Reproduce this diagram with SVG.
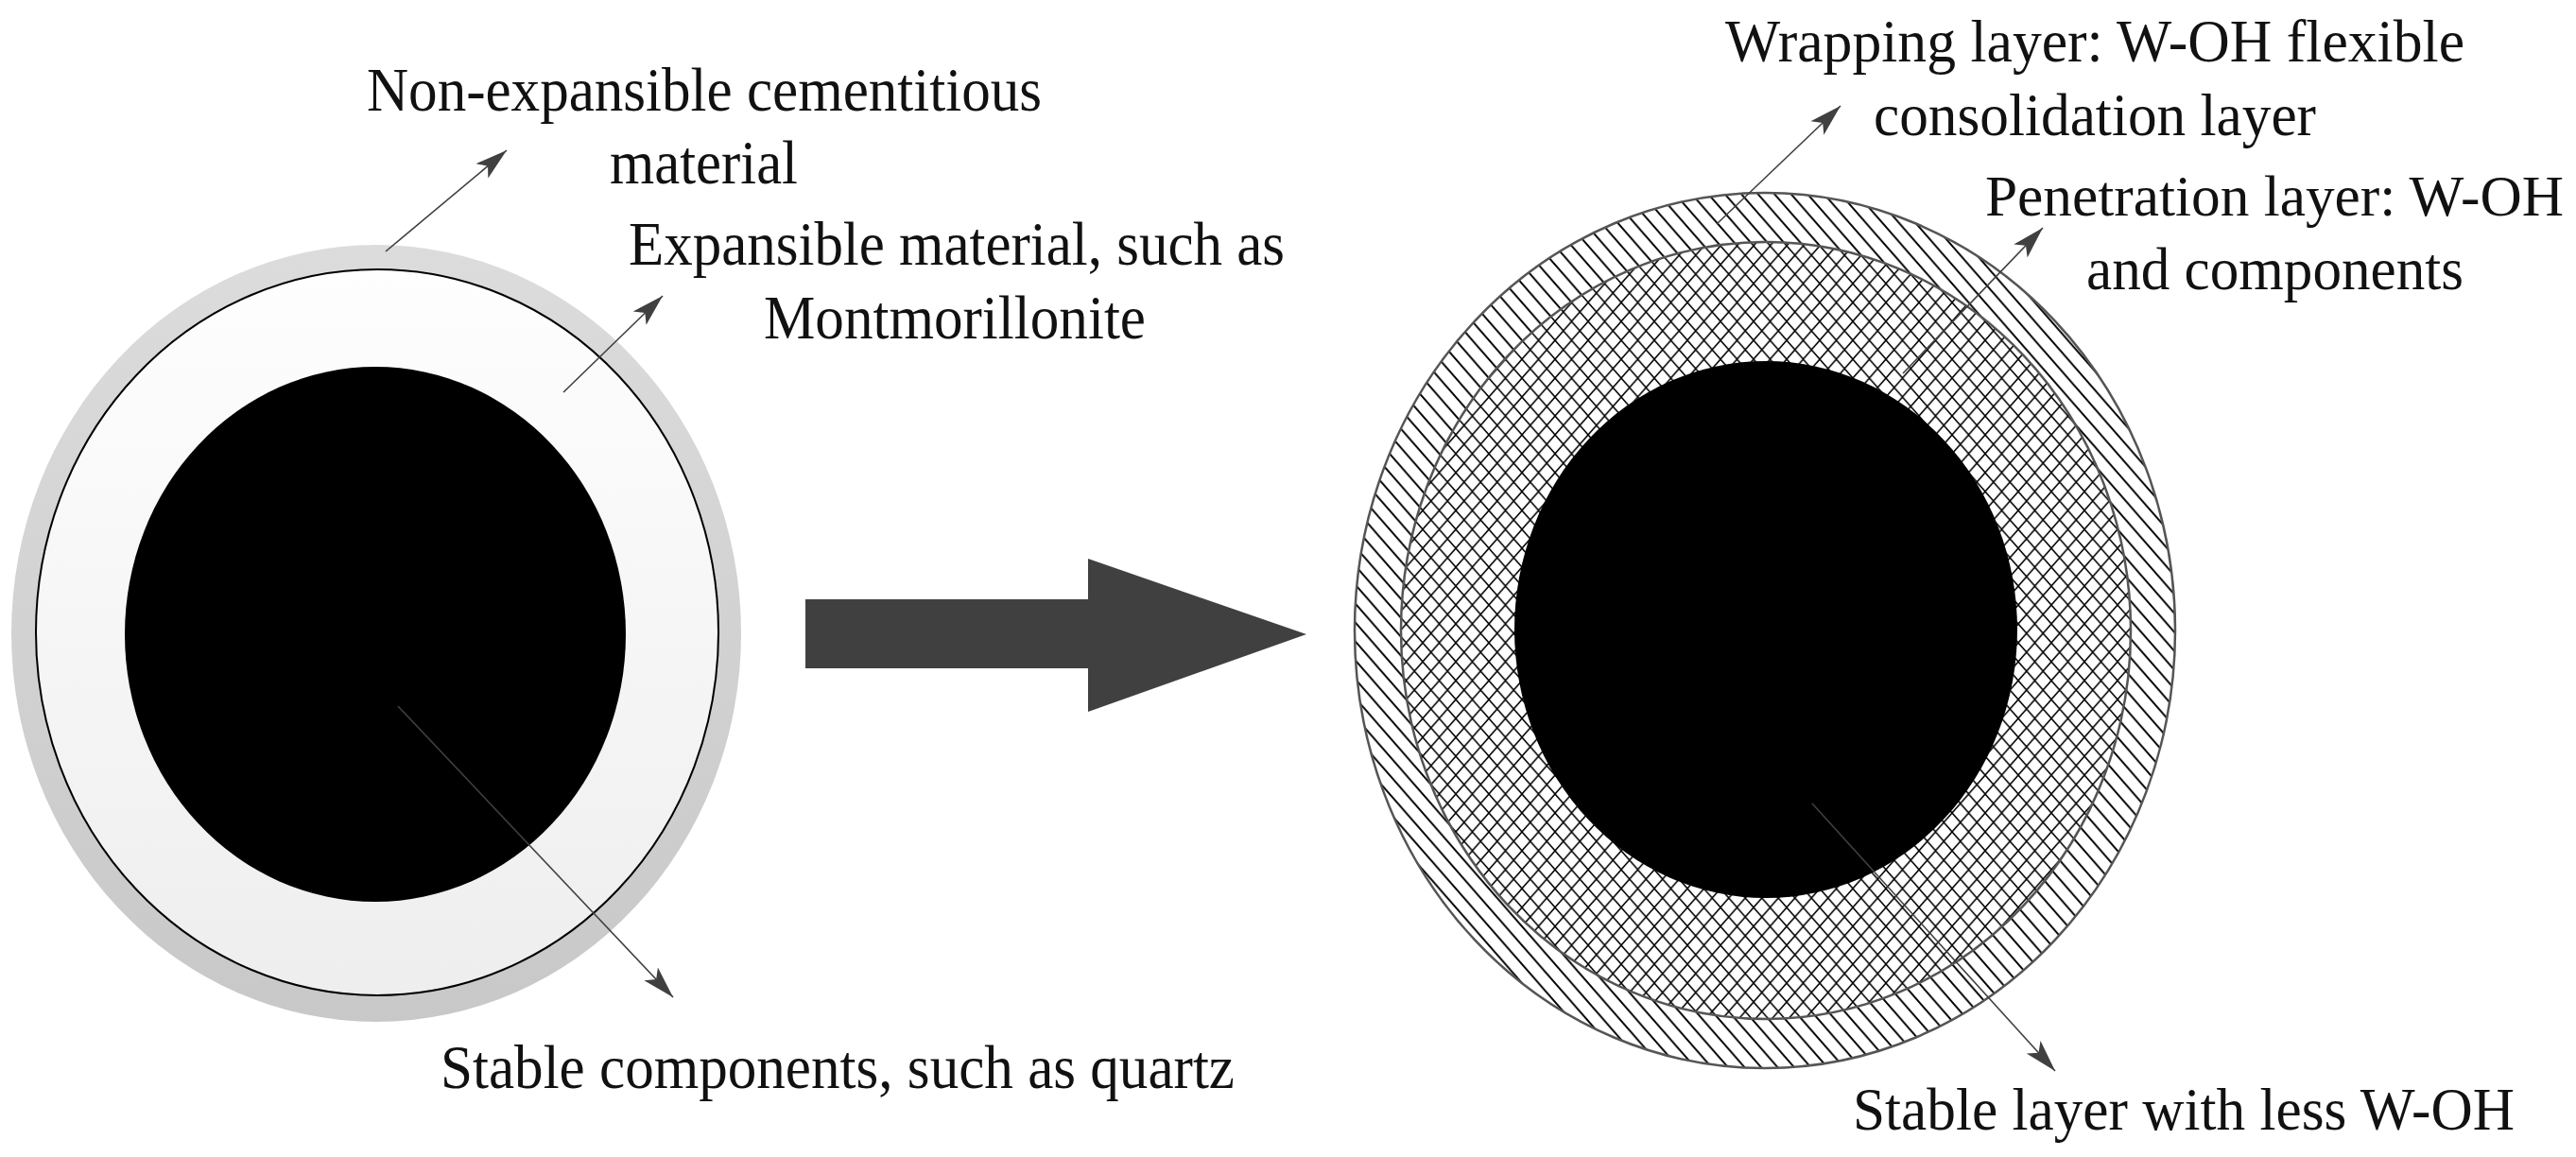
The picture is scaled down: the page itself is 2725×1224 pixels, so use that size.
<svg xmlns="http://www.w3.org/2000/svg" width="2725" height="1224" viewBox="0 0 2725 1224">
<style>
.t{font-family:"Liberation Serif","Times New Roman",serif;font-size:66px;fill:#111}
.r{font-size:63px}
.p{font-size:62px}
.c{fill:none;stroke:#404040;stroke-width:1.6;marker-end:url(#ah)}
.rim{stroke:#555;stroke-width:2.5}
</style>
<defs>
<linearGradient id="go" x1="0" y1="0" x2="0" y2="1"><stop offset="0" stop-color="#dcdcdc"/><stop offset="1" stop-color="#c8c8c8"/></linearGradient>
<linearGradient id="gi" x1="0" y1="0" x2="0" y2="1"><stop offset="0" stop-color="#fefefe"/><stop offset="1" stop-color="#eeeeee"/></linearGradient>
<pattern id="hatch" width="17.5" height="20" patternUnits="userSpaceOnUse"><rect width="17.5" height="20" fill="#fff"/><path d="M-3.5,-4L21,24M-3.5,16L3.5,24M14,-4L21,4" stroke="#000" stroke-width="1.9"/></pattern>
<pattern id="cross" width="17.5" height="20" patternUnits="userSpaceOnUse"><rect width="17.5" height="20" fill="#fff"/><path d="M-1.75,-2L19.25,22M-1.75,22L19.25,-2" stroke="#000" stroke-width="1.5"/></pattern>
<marker id="ah" markerUnits="userSpaceOnUse" markerWidth="36" markerHeight="24" viewBox="-34 -12 36 24" refX="0" refY="0" orient="auto"><path d="M0,0L-34,-10L-26,0L-34,10Z" fill="#404040"/></marker>
</defs>
<rect width="2725" height="1224" fill="#fff"/>
<g id="left-particle">
<ellipse cx="398" cy="670" rx="386" ry="411" fill="url(#go)"/>
<ellipse cx="399" cy="669" rx="361" ry="384" fill="url(#gi)" stroke="#000" stroke-width="2"/>
<ellipse cx="397" cy="671" rx="265" ry="283" fill="#000"/>
</g>
<g id="big-arrow"><path d="M852,634H1151V591L1382,671L1151,753V707H852Z" fill="#404040"/></g>
<g id="right-particle">
<ellipse cx="1867" cy="667" rx="434" ry="463" fill="url(#hatch)" class="rim"/>
<ellipse cx="1868" cy="667" rx="386" ry="411" fill="url(#cross)" class="rim"/>
<ellipse cx="1868" cy="666" rx="266" ry="284" fill="#000"/>
</g>
<g id="connectors">
<line class="c" x1="408" y1="266" x2="536" y2="159"/>
<line class="c" x1="596" y1="415" x2="701" y2="313"/>
<line class="c" x1="421" y1="747" x2="712" y2="1055"/>
<line class="c" x1="1816" y1="237" x2="1947" y2="112"/>
<line class="c" x1="2013" y1="395" x2="2161" y2="241"/>
<line class="c" x1="1917" y1="850" x2="2174" y2="1133"/>
</g>
<g id="labels">
<text class="t" x="388" y="117" textLength="714" lengthAdjust="spacingAndGlyphs">Non-expansible cementitious</text>
<text class="t" x="645" y="194" textLength="199" lengthAdjust="spacingAndGlyphs">material</text>
<text class="t" x="665" y="280" textLength="694" lengthAdjust="spacingAndGlyphs">Expansible material, such as</text>
<text class="t" x="808" y="358" textLength="404" lengthAdjust="spacingAndGlyphs">Montmorillonite</text>
<text class="t" x="466" y="1151" textLength="840" lengthAdjust="spacingAndGlyphs">Stable components, such as quartz</text>
<text class="t r" x="1825" y="65" textLength="782" lengthAdjust="spacingAndGlyphs">Wrapping layer: W-OH flexible</text>
<text class="t r" x="1982" y="143" textLength="468" lengthAdjust="spacingAndGlyphs">consolidation layer</text>
<text class="t p" x="2100" y="228" textLength="612" lengthAdjust="spacingAndGlyphs">Penetration layer: W-OH</text>
<text class="t r" x="2207" y="306" textLength="399" lengthAdjust="spacingAndGlyphs">and components</text>
<text class="t r" x="1960" y="1195" textLength="700" lengthAdjust="spacingAndGlyphs">Stable layer with less W-OH</text>
</g>
</svg>
